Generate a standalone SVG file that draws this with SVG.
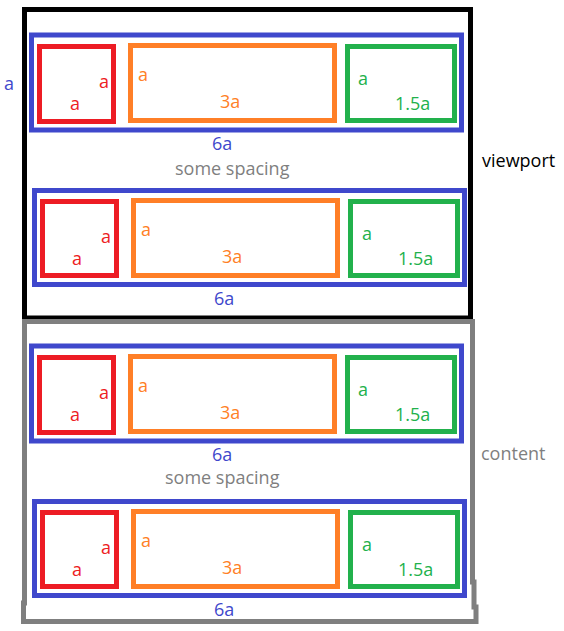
<svg xmlns="http://www.w3.org/2000/svg" width="564" height="631" viewBox="0 0 564 631">
<style>
rect{fill:none;stroke-width:5}
.b{stroke:#3f48cc}.r{stroke:#ed1c24}.o{stroke:#ff7f27}.g{stroke:#22b14c}
text{font-family:"Open Sans","Noto Sans","DejaVu Sans",sans-serif;font-size:18px}
.tb{fill:#3f48cc}.tr{fill:#ed1c24}.to{fill:#ff7f27}.tg{fill:#22b14c}.tk{fill:#7f7f7f}
</style>
<rect width="564" height="631" fill="#fff" style="stroke:none"/>
<g id="viewport">
<rect x="24.5" y="9.5" width="446" height="308.5" stroke="#000"/>
<text x="482" y="167" fill="#000">viewport</text>
</g>
<g id="content">
<path d="M24.5,321.5 H472.5 V582 H474 V607 H476 V621.5 H23.5 V603 H24.5 Z" fill="none" stroke="#7f7f7f" stroke-width="5"/>
<text class="tk" x="481" y="460">content</text>
</g>
<g id="label-a"><text class="tb" x="4" y="90">a</text></g>
<g id="row1">
<rect class="b" x="31.5" y="35" width="430" height="95"/>
<rect class="r" x="39.5" y="46.5" width="74" height="75"/>
<rect class="o" x="130.5" y="45.5" width="204" height="75"/>
<rect class="g" x="347.5" y="46.5" width="107" height="74"/>
<text class="tr" x="99" y="88">a</text><text class="tr" x="70" y="110">a</text>
<text class="to" x="138" y="81">a</text><text class="to" x="220" y="108">3a</text>
<text class="tg" x="358" y="85">a</text><text class="tg" x="395" y="110">1.5a</text>
<text class="tb" x="212" y="150">6a</text>
</g>
<g id="spacing1"><text class="tk" x="175" y="175">some spacing</text></g>
<g id="row2">
<rect class="b" x="34.5" y="190.5" width="430" height="94"/>
<rect class="r" x="42.5" y="201.5" width="74" height="74"/>
<rect class="o" x="133.5" y="200.5" width="204" height="75"/>
<rect class="g" x="350.5" y="201.5" width="107" height="74"/>
<text class="tr" x="101" y="243">a</text><text class="tr" x="72" y="265">a</text>
<text class="to" x="141" y="236">a</text><text class="to" x="222" y="263">3a</text>
<text class="tg" x="362" y="240">a</text><text class="tg" x="398" y="265">1.5a</text>
<text class="tb" x="214" y="305">6a</text>
</g>
<g id="row3">
<rect class="b" x="31.5" y="346" width="430" height="95"/>
<rect class="r" x="39.5" y="357.5" width="74" height="75"/>
<rect class="o" x="130.5" y="356.5" width="204" height="75"/>
<rect class="g" x="347.5" y="357.5" width="107" height="74"/>
<text class="tr" x="99" y="399">a</text><text class="tr" x="70" y="421">a</text>
<text class="to" x="138" y="392">a</text><text class="to" x="220" y="419">3a</text>
<text class="tg" x="358" y="396">a</text><text class="tg" x="395" y="421">1.5a</text>
<text class="tb" x="212" y="461">6a</text>
</g>
<g id="spacing2"><text class="tk" x="165" y="484">some spacing</text></g>
<g id="row4">
<rect class="b" x="34.5" y="501.5" width="430" height="94"/>
<rect class="r" x="42.5" y="512.5" width="74" height="74"/>
<rect class="o" x="133.5" y="511.5" width="204" height="75"/>
<rect class="g" x="350.5" y="512.5" width="107" height="74"/>
<text class="tr" x="101" y="554">a</text><text class="tr" x="72" y="576">a</text>
<text class="to" x="141" y="547">a</text><text class="to" x="222" y="574">3a</text>
<text class="tg" x="362" y="551">a</text><text class="tg" x="398" y="576">1.5a</text>
<text class="tb" x="214" y="616">6a</text>
</g>
</svg>
